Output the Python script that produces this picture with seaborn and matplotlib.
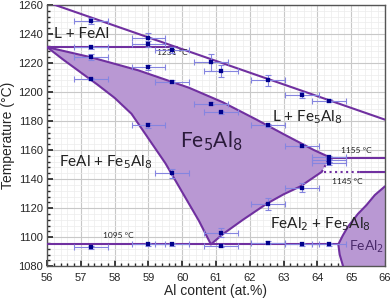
import numpy as np
import pandas as pd
import matplotlib
matplotlib.use("Agg")
import matplotlib.pyplot as plt
from matplotlib.ticker import MultipleLocator
import seaborn as sns

# ---------------- data ----------------
liq_x = [56.0, 66.0]
liq_T = [1262.0, 1181.0]

eut1231_x = [56.0, 59.85]
eut1231_T = [1231.0, 1231.0]

# Fe5Al8 region boundaries
upper_x = [56.0, 57.3, 58.7, 60.2, 61.2, 62.2, 63.0, 63.9, 64.37]
upper_T = [1231.0, 1224.0, 1215.0, 1203.0, 1193.0, 1181.0, 1171.0, 1160.0, 1155.0]
left_x = [56.0, 56.5, 57.0, 57.5, 58.0, 58.5, 59.0, 59.5, 60.0, 60.5, 60.85]
left_T = [1231.0, 1222.0, 1213.5, 1205.0, 1196.0, 1185.0, 1168.0, 1151.0, 1131.0, 1111.0, 1095.0]
right_x = [60.85, 61.2, 61.8, 62.5, 63.0, 63.5, 64.13]
right_T = [1095.0, 1102.0, 1112.0, 1123.0, 1129.5, 1135.0, 1145.0]
dotjoin_x = [64.13, 64.37]
dotjoin_T = [1145.0, 1155.0]

line1155_x = [64.37, 66.0]
line1155_T = [1154.5, 1154.5]
line1145_dot_x = [64.2, 65.25]
line1145_sol_x = [65.25, 66.0]
line1145_T = [1145.0, 1145.0]

line1095_x = [56.0, 64.62]
line1095_T = [1095.0, 1095.0]

# FeAl2 region left boundary
feal2_x = [64.76, 64.66, 64.62, 64.75, 64.9, 65.2, 65.45, 65.7, 66.0]
feal2_T = [1080.0, 1088.0, 1095.0, 1101.0, 1107.0, 1116.0, 1122.0, 1129.0, 1135.0]

# measured points
pt_x = [57.3, 57.3, 57.3, 57.3, 57.3,
        59.0, 59.0, 59.0, 59.0, 59.0,
        59.7, 59.7, 59.7, 59.7,
        60.85, 60.85,
        61.15, 61.15, 61.15, 61.15,
        62.55, 62.55, 62.55, 62.55,
        63.55, 63.55, 63.55, 63.55,
        64.35, 64.35, 64.35, 64.35, 64.35]
pt_T = [1249, 1231, 1224, 1209, 1093,
        1237, 1233, 1217, 1177, 1095,
        1229, 1207, 1144, 1095,
        1220.5, 1192,
        1214.7, 1186, 1103, 1094,
        1208, 1177, 1123, 1096,
        1198, 1163, 1134, 1095,
        1194, 1155, 1153, 1151, 1095]
pt_yerr = [2, 1, 2, 1, 1,
           4, 2, 2, 2, 1,
           2, 1, 3, 1,
           6, 1,
           4, 1, 3, 1,
           4, 1, 4, 1,
           2, 1, 3, 1,
           1, 1, 1, 1, 1]
pt_xerr = [0.5] * len(pt_x)

# ---------------- plot ----------------
sns.set_theme(style="white")
plt.rcParams['font.family'] = ['Liberation Sans', 'DejaVu Sans']

fig = plt.figure(figsize=(3.92, 2.98), dpi=100)
ax = fig.add_axes([0.12, 0.107, 0.862, 0.876])

purple = "#7030a0"
fill = "#b998d3"

ax.set_xlim(56, 66)
ax.set_ylim(1080, 1260)
ax.xaxis.set_major_locator(MultipleLocator(1))
ax.xaxis.set_minor_locator(MultipleLocator(0.2))
ax.yaxis.set_major_locator(MultipleLocator(20))
ax.yaxis.set_minor_locator(MultipleLocator(4))
ax.grid(which="major", color="#c8c8c8", lw=0.8)
ax.grid(which="minor", color="#ececec", lw=0.5)
ax.set_axisbelow(True)

# Fe5Al8 region polygon
poly_x = upper_x + dotjoin_x[::-1] + right_x[::-1] + left_x[::-1]
poly_T = upper_T + dotjoin_T[::-1] + right_T[::-1] + left_T[::-1]
ax.fill(poly_x, poly_T, color=fill, zorder=1, lw=0)

# FeAl2 region
fx = feal2_x + [66.0, 66.0]
fT = feal2_T + [1080.0, 1080.0]
ax.fill(fx, fT, color=fill, zorder=1, lw=0)

def ln(x, y, ls="-"):
    d = pd.DataFrame({"x": x, "y": y})
    sns.lineplot(data=d, x="x", y="y", ax=ax, color=purple, lw=1.5,
                 linestyle=ls, sort=False, estimator=None, zorder=3)

ln(liq_x, liq_T)
ln(eut1231_x, eut1231_T)
ln(upper_x, upper_T)
ln(left_x, left_T)
ln(right_x, right_T)
ln(dotjoin_x, dotjoin_T, ":")
ln(line1155_x, line1155_T)
ln(line1145_dot_x, line1145_T, ":")
ln(line1145_sol_x, line1145_T)
ln(line1095_x, line1095_T)
ln(feal2_x, feal2_T)

ax.errorbar(pt_x, pt_T, xerr=pt_xerr, yerr=pt_yerr, fmt="none",
            ecolor="#8585e0", elinewidth=0.8, capsize=2, capthick=0.8, zorder=4)
sns.scatterplot(x=pt_x, y=pt_T, ax=ax, marker="s", s=6, color="#00008b",
                edgecolor="#00008b", zorder=5)

lf = ['Lato', 'DejaVu Sans']
tc = "#222222"
ax.text(56.2, 1240, "L + FeAl", fontsize=11, family=lf, color=tc, va="center")
ax.text(59.25, 1227.5, "1231 °C", fontsize=6, family=lf, color=tc, va="center")
ax.text(63.7, 1183, "L + Fe$_5$Al$_8$", fontsize=11, family=lf, color=tc, va="center", ha="center")
ax.text(60.85, 1166, "Fe$_5$Al$_8$", fontsize=15, family=lf, color="#2a1a3a", va="center", ha="center")
ax.text(57.75, 1152, "FeAl + Fe$_5$Al$_8$", fontsize=11, family=lf, color=tc, va="center", ha="center")
ax.text(65.15, 1160, "1155 °C", fontsize=6, family=lf, color=tc, va="center", ha="center")
ax.text(64.9, 1138, "1145 °C", fontsize=6, family=lf, color=tc, va="center", ha="center")
ax.text(64.1, 1109, "FeAl$_2$ + Fe$_5$Al$_8$", fontsize=11, family=lf, color=tc, va="center", ha="center")
ax.text(65.45, 1093, "FeAl$_2$", fontsize=10, family=lf, color="#4a2a6a", va="center", ha="center")
ax.text(58.1, 1101, "1095 °C", fontsize=6, family=lf, color=tc, va="center", ha="center")

ax.set_xlabel("Al content (at.%)", fontsize=10, labelpad=1)
ax.set_ylabel("Temperature (°C)", fontsize=10, labelpad=2)
ax.tick_params(axis="x", which="major", labelsize=8, length=4, direction="in",
               bottom=True, pad=5)
ax.tick_params(axis="y", which="major", labelsize=8, length=4, direction="in",
               left=True, pad=3)
ax.tick_params(axis="both", which="minor", length=2, direction="in", bottom=True, left=True)
for s in ax.spines.values():
    s.set_color("#555555")
    s.set_linewidth(1.0)

fig.savefig("out.png", dpi=100)
